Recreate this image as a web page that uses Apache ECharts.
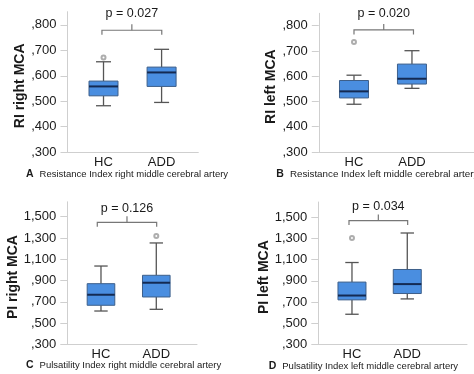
<!DOCTYPE html>
<html>
<head>
<meta charset="utf-8">
<script src="https://cdn.jsdelivr.net/npm/echarts@6/dist/echarts.min.js"></script>
<style>
html,body{margin:0;padding:0;background:#fff;}
#chart{width:474px;height:374px;}
</style>
</head>
<body>
<div id="chart"></div>
<script>
// ---------- data ----------
const categories = ['HC', 'ADD'];
const riTicks = [0.3, 0.4, 0.5, 0.6, 0.7, 0.8];
const riTickLabels = [',300', ',400', ',500', ',600', ',700', ',800'];
const piTicks = [0.3, 0.5, 0.7, 0.9, 1.1, 1.3, 1.5];
const piTickLabels = [',300', ',500', ',700', ',900', '1,100', '1,300', '1,500'];

// box statistics: [lower whisker, Q1, median, Q3, upper whisker]
const riRightHC = [0.482, 0.521, 0.558, 0.579, 0.655];
const riRightADD = [0.495, 0.558, 0.613, 0.634, 0.704];
const riRightOutliers = [[1, 0.672]];

const riLeftHC = [0.489, 0.514, 0.540, 0.583, 0.604];
const riLeftADD = [0.552, 0.569, 0.590, 0.648, 0.701];
const riLeftOutliers = [[1, 0.735]];

const piRightHC = [0.613, 0.667, 0.766, 0.870, 1.036];
const piRightADD = [0.629, 0.745, 0.879, 0.949, 1.253];
const piRightOutliers = [[2, 1.319]];

const piLeftHC = [0.584, 0.720, 0.761, 0.888, 1.073];
const piLeftADD = [0.729, 0.780, 0.869, 1.007, 1.352];
const piLeftOutliers = [[1, 1.305]];

const pValues = ['p = 0.027', 'p = 0.020', 'p = 0.126', 'p = 0.034'];
// bracket: [from category position, to category position, level]
const brackets = [[0.973, 2.003, 0.779], [1.0, 2.026, 0.783], [0.933, 2.007, 1.447], [0.946, 2.007, 1.469]];

const yAxisNames = ['RI right MCA', 'RI left MCA', 'PI right MCA', 'PI left MCA'];
const captionLetters = ['A', 'B', 'C', 'D'];
const captionTexts = [
  'Resistance Index right middle cerebral artery',
  'Resistance Index left middle cerebral artery',
  'Pulsatility Index right middle cerebral artery',
  'Pulsatility Index left middle cerebral artery'
];

// ---------- layout ----------
const FONT = "'Liberation Sans', Arial, Helvetica, sans-serif";
const panels = [
  { grid: {left: 67.5, top: 11.7, width: 130.8, height: 140.3}, x: [0.38, 2.632], y: [0.3, 0.852],
    ticks: riTicks, labels: riTickLabels, boxes: [riRightHC, riRightADD], outliers: riRightOutliers,
    half: 14.5, cap: 7.5, nameGap: 38, pOff: 16.5, cap_pos: {left: 26, top: 169}, capSize: 9.5 },
  { grid: {left: 318.8, top: 13.3, width: 156, height: 138.7}, x: [0.393, 3.07], y: [0.3, 0.849],
    ticks: riTicks, labels: riTickLabels, boxes: [riLeftHC, riLeftADD], outliers: riLeftOutliers,
    half: 14.5, cap: 7.5, nameGap: 39, pOff: 16.5, cap_pos: {left: 276.3, top: 169}, capSize: 9.8 },
  { grid: {left: 67.3, top: 201.8, width: 129.7, height: 142.5}, x: [0.391, 2.736], y: [0.3, 1.64],
    ticks: piTicks, labels: piTickLabels, boxes: [piRightHC, piRightADD], outliers: piRightOutliers,
    half: 13.8, cap: 6.7, nameGap: 44, pOff: 14, cap_pos: {left: 26, top: 360}, capSize: 9.5 },
  { grid: {left: 318.3, top: 202, width: 148.7, height: 142.3}, x: [0.391, 3.08], y: [0.3, 1.645],
    ticks: piTicks, labels: piTickLabels, boxes: [piLeftHC, piLeftADD], outliers: piLeftOutliers,
    half: 14, cap: 6.7, nameGap: 45, pOff: 14.3, cap_pos: {left: 268.7, top: 361}, capSize: 9.5 }
];

const axisColor = '#cfcfcf';
const grids = [], xAxes = [], yAxes = [], series = [], titles = [];

panels.forEach((p, i) => {
  grids.push(Object.assign({containLabel: false}, p.grid));
  xAxes.push({
    type: 'value', gridIndex: i, min: p.x[0], max: p.x[1],
    axisLine: {show: true, onZero: false, lineStyle: {color: axisColor, width: 1}},
    axisTick: {show: false},
    splitLine: {show: false},
    axisLabel: {
      customValues: [1, 2], margin: 4,
      formatter: v => categories[Math.round(v) - 1] || '',
      color: '#1a1a1a', fontSize: 13, fontFamily: FONT
    }
  });
  yAxes.push({
    type: 'value', gridIndex: i, min: p.y[0], max: p.y[1],
    name: yAxisNames[i], nameLocation: 'middle', nameGap: p.nameGap,
    nameTextStyle: {fontSize: 14, fontWeight: 'bold', color: '#1a1a1a', fontFamily: FONT, padding: [0, 8, 0, 0]},
    axisLine: {show: true, onZero: false, lineStyle: {color: axisColor, width: 1}},
    axisTick: {show: true, customValues: p.ticks, length: 7, lineStyle: {color: axisColor}},
    splitLine: {show: false},
    axisLabel: {
      customValues: p.ticks, margin: 11,
      formatter: v => {
        const k = p.ticks.findIndex(t => Math.abs(t - v) < 1e-6);
        return k >= 0 ? p.labels[k] : '';
      },
      color: '#1a1a1a', fontSize: 13, fontFamily: FONT
    }
  });

  const boxData = p.boxes.map((b, k) => [k + 1].concat(b));
  series.push({
    type: 'custom', xAxisIndex: i, yAxisIndex: i,
    encode: {x: 0, y: [1, 2, 3, 4, 5]},
    data: boxData,
    renderItem: (params, api) => {
      const xv = api.value(0);
      const lo = api.coord([xv, api.value(1)]);
      const q1 = api.coord([xv, api.value(2)]);
      const md = api.coord([xv, api.value(3)]);
      const q3 = api.coord([xv, api.value(4)]);
      const hi = api.coord([xv, api.value(5)]);
      const cx = lo[0];
      const ws = {stroke: '#555', lineWidth: 1.3};
      return {
        type: 'group',
        children: [
          {type: 'line', shape: {x1: cx, y1: hi[1], x2: cx, y2: q3[1]}, style: ws},
          {type: 'line', shape: {x1: cx, y1: q1[1], x2: cx, y2: lo[1]}, style: ws},
          {type: 'line', shape: {x1: cx - p.cap, y1: hi[1], x2: cx + p.cap, y2: hi[1]}, style: ws},
          {type: 'line', shape: {x1: cx - p.cap, y1: lo[1], x2: cx + p.cap, y2: lo[1]}, style: ws},
          {type: 'rect', shape: {x: cx - p.half, y: q3[1], width: 2 * p.half, height: q1[1] - q3[1]},
            style: {fill: '#4a8ee0', stroke: '#3d5f8a', lineWidth: 1}},
          {type: 'line', shape: {x1: cx - p.half, y1: md[1], x2: cx + p.half, y2: md[1]},
            style: {stroke: '#142a52', lineWidth: 2}}
        ]
      };
    }
  });

  series.push({
    type: 'scatter', xAxisIndex: i, yAxisIndex: i,
    data: p.outliers,
    symbol: 'emptyCircle', symbolSize: 4,
    itemStyle: {color: '#999', borderColor: '#999', borderWidth: 1},
    z: 5,
    silent: true
  });

  series.push({
    type: 'custom', xAxisIndex: i, yAxisIndex: i,
    encode: {x: [0, 1], y: 2},
    data: [brackets[i]],
    renderItem: (params, api) => {
      const a = api.coord([api.value(0), api.value(2)]);
      const b = api.coord([api.value(1), api.value(2)]);
      const mid = (a[0] + b[0]) / 2;
      const st = {stroke: '#777', lineWidth: 1.2, fill: null};
      return {
        type: 'group',
        children: [
          {type: 'polyline', shape: {points: [[a[0], a[1] + 4.5], [a[0], a[1]], [b[0], b[1]], [b[0], b[1] + 4.5]]}, style: st},
          {type: 'line', shape: {x1: mid, y1: a[1], x2: mid, y2: a[1] - 6}, style: st},
          {type: 'text', x: mid, y: a[1] - p.pOff,
            style: {text: pValues[i], fill: '#1a1a1a', font: '12.5px ' + FONT, align: 'center', verticalAlign: 'middle'}}
        ]
      };
    }
  });

  titles.push({
    left: p.cap_pos.left, top: p.cap_pos.top, padding: 0,
    text: '{l|' + captionLetters[i] + '}{t|' + captionTexts[i] + '}',
    textStyle: {
      fontWeight: 'normal',
      rich: {
        l: {fontSize: 10.5, fontWeight: 'bold', color: '#1a1a1a', fontFamily: FONT, padding: [0, 6, 0, 0]},
        t: {fontSize: p.capSize, fontWeight: 'normal', color: '#1a1a1a', fontFamily: FONT}
      }
    }
  });
});

const chart = echarts.init(document.getElementById('chart'), null, {renderer: 'canvas'});
chart.setOption({
  animation: false,
  backgroundColor: '#ffffff',
  title: titles,
  grid: grids,
  xAxis: xAxes,
  yAxis: yAxes,
  series: series
});
</script>
</body>
</html>
